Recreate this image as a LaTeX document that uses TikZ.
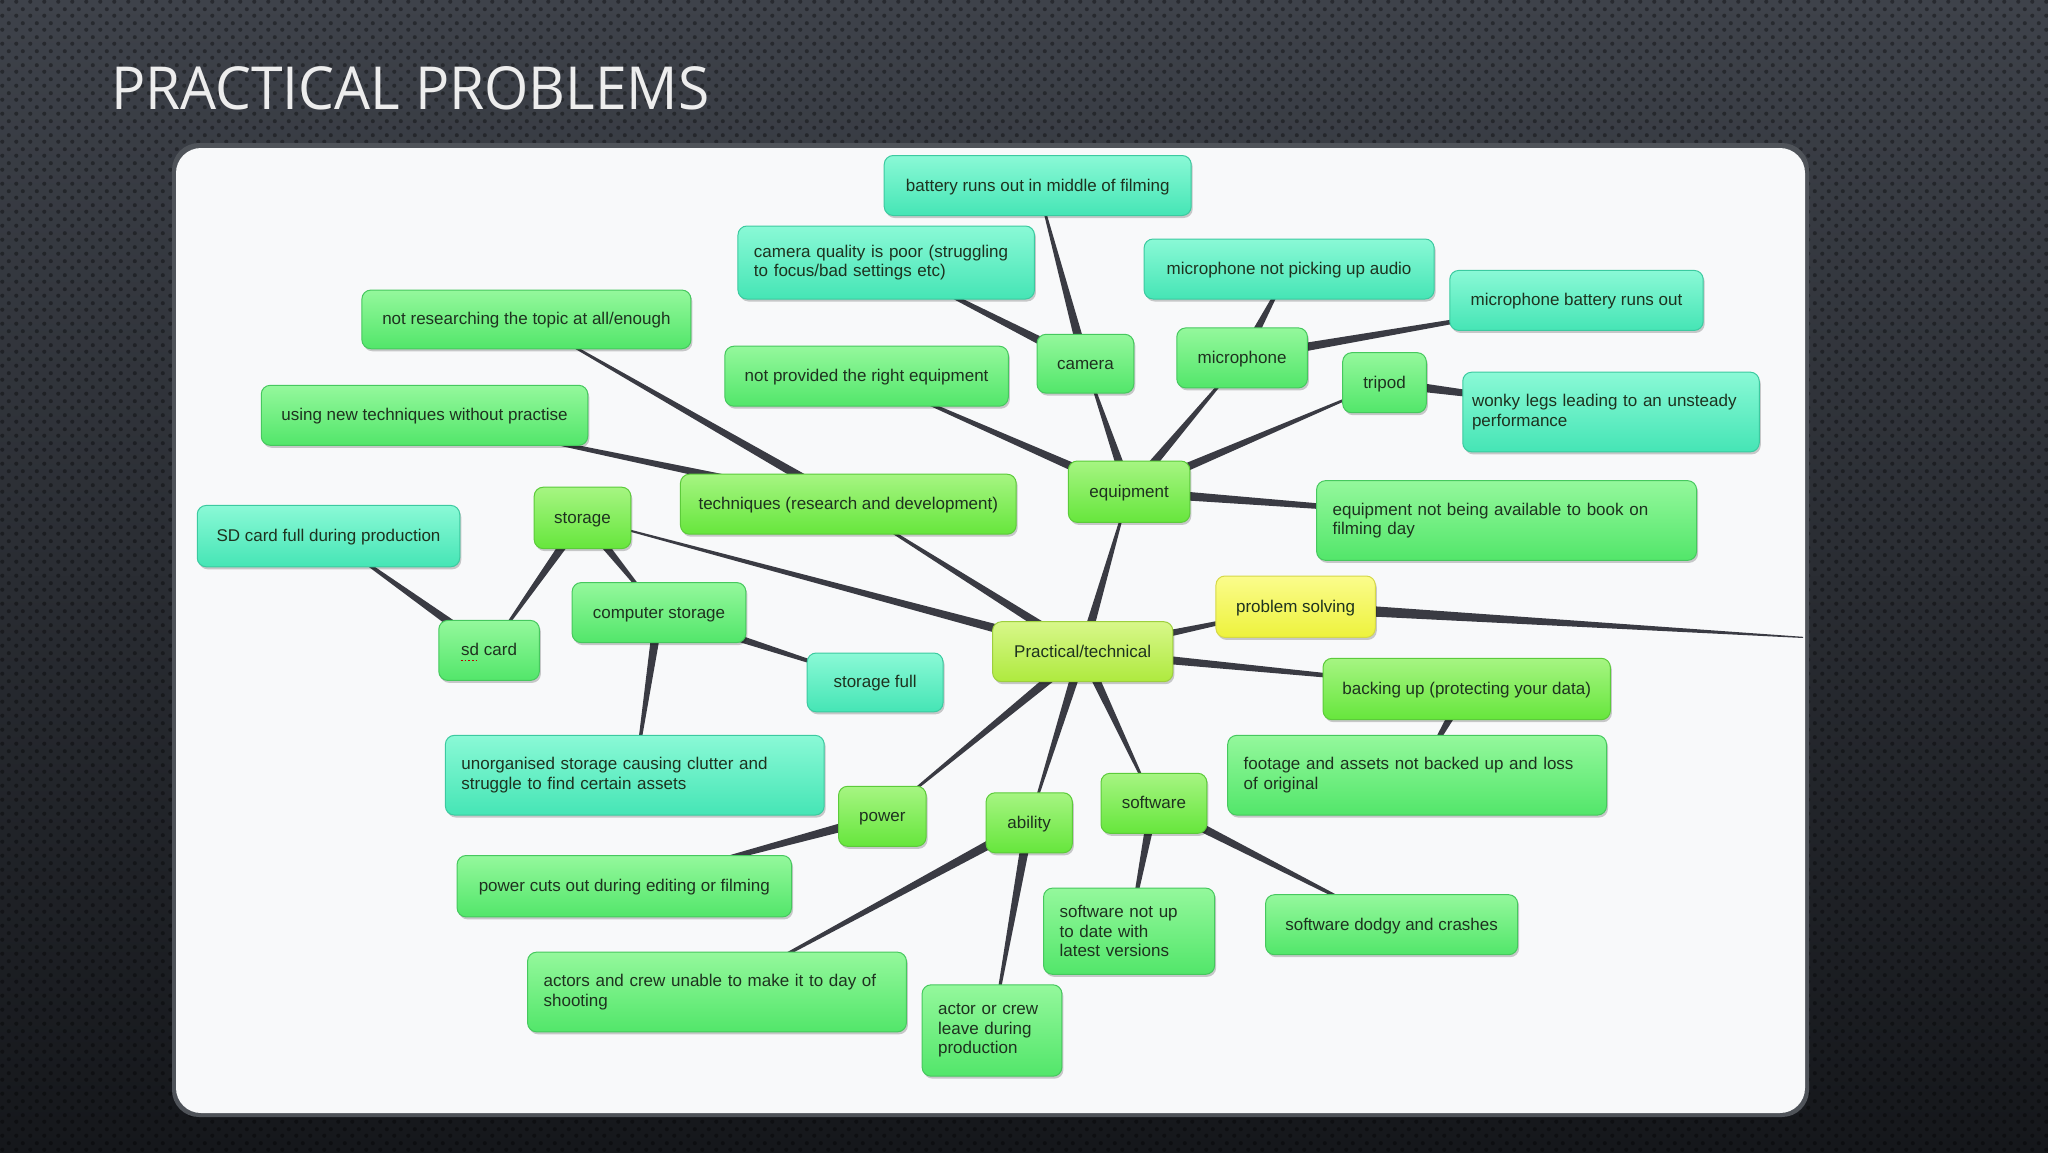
\documentclass[tikz,border=0pt]{standalone}
\usepackage{fontspec}
\usepackage{graphicx}
\setmainfont{Liberation Sans}
\newfontfamily\titlefont{Open Sans}
\usetikzlibrary{calc,shadows,patterns.meta}
\hyphenpenalty=10000
\exhyphenpenalty=10000
\definecolor{bgtop}{HTML}{3E424A}
\definecolor{bgbot}{HTML}{15171B}
\definecolor{panelrim}{HTML}{4F5359}
\definecolor{panelwhite}{HTML}{F8F9FA}
\definecolor{edgecol}{HTML}{3A3B43}
\definecolor{txtcol}{HTML}{1E321F}
\definecolor{limeT}{HTML}{A6F582}
\definecolor{limeB}{HTML}{66E63C}
\definecolor{limeD}{HTML}{5CCB3A}
\definecolor{grnT}{HTML}{94F89C}
\definecolor{grnB}{HTML}{52E66A}
\definecolor{grnD}{HTML}{46C85E}
\definecolor{cyaT}{HTML}{8AF9D6}
\definecolor{cyaB}{HTML}{45E5B5}
\definecolor{cyaD}{HTML}{3CCAA0}
\definecolor{yelT}{HTML}{FBFC8C}
\definecolor{yelB}{HTML}{EDF23C}
\definecolor{yelD}{HTML}{D5D848}
\definecolor{ctrT}{HTML}{D8F78A}
\definecolor{ctrB}{HTML}{AEEA3E}
\definecolor{ctrD}{HTML}{9DCF3E}
\pgfdeclarelayer{bg}
\pgfdeclarelayer{edges}
\pgfsetlayers{bg,edges,main}
\tikzdeclarepattern{
  name=perforated,
  type=uncolored,
  bounding box={(0pt,0pt) and (14pt,14pt)},
  tile size={(14pt,14pt)},
  code={
    \pgfpathcircle{\pgfpoint{3.5pt}{3.5pt}}{2.2pt}
    \pgfpathcircle{\pgfpoint{10.5pt}{10.5pt}}{2.2pt}
    \pgfusepath{fill}
  }
}
\newcommand\tapered[3][5pt]{\fill[edgecol] ($(#2)!#1!90:(#3)$) -- ($(#3)!0.6pt!-90:(#2)$) -- ($(#3)!0.6pt!90:(#2)$) -- ($(#2)!#1!-90:(#3)$) -- cycle;}
\begin{document}
\begin{tikzpicture}[x=1pt,y=-1pt,
  box/.style={rounded corners=9pt, inner xsep=12pt, inner ysep=3pt, align=center,
    font=\fontsize{17}{19.5}\selectfont, text=txtcol, line width=1pt,
    text height=14pt, text depth=3pt,
    drop shadow={shadow xshift=1.5pt, shadow yshift=-2.5pt, opacity=0.2, fill=black}},
  sz/.style 2 args={minimum width=#1pt, minimum height=#2pt},
  multi/.style={align=left, inner xsep=16pt, text width=#1pt, text height=, text depth=},
  lime/.style={box, top color=limeT, bottom color=limeB, draw=limeD},
  grn/.style={box, top color=grnT, bottom color=grnB, draw=grnD},
  cya/.style={box, top color=cyaT, bottom color=cyaB, draw=cyaD},
  yel/.style={box, top color=yelT, bottom color=yelB, draw=yelD},
  ctrc/.style={box, top color=ctrT, bottom color=ctrB, draw=ctrD}]
\useasboundingbox (0,0) rectangle (2048,1152);
\begin{pgfonlayer}{bg}
  \fill[top color=bgtop, bottom color=bgbot] (0,0) rectangle (2048,1152);
  \fill[pattern=perforated, pattern color=black, fill opacity=0.35] (0,0) rectangle (2048,1152);
  \fill[rounded corners=27pt, panelrim] (172,143) rectangle (1809,1117);
  \fill[rounded corners=25pt, panelwhite] (176,148) rectangle (1805,1113);
\end{pgfonlayer}
\node[anchor=south west, inner sep=0pt, text=white!93!black] (title) at (111,110)
  {\resizebox{598pt}{43pt}{\titlefont PRACTICAL PROBLEMS}};
% level 0 / 1
\node[ctrc, sz={180.2}{60}] (ctr) at (1082.7,651.7) {Practical/technical};
\node[lime, sz={335.7}{60}] (tech) at (848.3,504.2) {techniques (research and development)};
\node[lime, sz={96.6}{61.4}] (stor) at (582.5,517.9) {storage};
\node[lime, sz={121.5}{61.4}] (equip) at (1129.1,491.7) {equipment};
\node[yel, sz={159.3}{61.4}] (prob) at (1295.6,606.7) {problem solving};
\node[lime, sz={287.3}{61.4}] (backup) at (1466.7,689) {backing up (protecting your data)};
\node[lime, sz={87.5}{60}] (power) at (882.3,816.3) {power};
\node[lime, sz={86.2}{60}] (ability) at (1029.2,822.8) {ability};
\node[lime, sz={105.8}{60}] (soft) at (1153.9,803.3) {software};
% level 2
\node[grn, sz={329}{58.7}] (notres) at (526.4,319.4) {not researching the topic at all/enough};
\node[grn, sz={326.5}{60}] (usenew) at (424.5,415.3) {using new techniques without practise};
\node[grn, sz={283.4}{60}] (notprov) at (866.6,376.2) {not provided the right equipment};
\node[grn, sz={96.7}{58.8}] (camera) at (1085.4,363.7) {camera};
\node[grn, sz={130.6}{60}] (mic) at (1242.1,357.9) {microphone};
\node[grn, sz={83.6}{60}] (tripod) at (1384.5,382.7) {tripod};
\node[grn, multi=348, sz={380}{79.7}] (equipna) at (1506.6,520.5) {equipment not being available to book on\\filming day};
\node[grn, sz={100.6}{60}] (sdcard) at (489.1,650.4) {sd card};
\node[grn, sz={173.7}{60}] (compst) at (659,612.6) {computer storage};
\node[grn, multi=346.8, sz={378.8}{79.7}] (footage) at (1417.1,775.2) {footage and assets not backed up and loss\\of original};
\node[grn, sz={334.4}{61.4}] (pcuts) at (624.3,886.2) {power cuts out during editing or filming};
\node[grn, multi=346.8, sz={378.8}{79.7}] (actors) at (717,992) {actors and crew unable to make it to day of\\shooting};
\node[grn, multi=107.8, sz={139.8}{91.4}] (aleave) at (992,1030.5) {actor or crew\\leave during\\production};
\node[grn, multi=139.1, sz={171.1}{86.2}] (swold) at (1129.1,931.2) {software not up\\to date with\\latest versions};
\node[grn, sz={252.1}{60}] (swdodgy) at (1391.6,924.7) {software dodgy and crashes};
% cyan leaves
\node[cya, sz={307}{60}] (battery) at (1037.7,185.5) {battery runs out in middle of filming};
\node[cya, multi=264.5, sz={296.5}{73}] (camq) at (886.2,262.5) {camera quality is poor (struggling\\to focus/bad settings etc)};
\node[cya, sz={290}{60}] (micaud) at (1289.1,269) {microphone not picking up audio};
\node[cya, sz={253.4}{60}] (micbat) at (1576.5,300.4) {microphone battery runs out};
\node[cya, multi=278, inner xsep=9pt, sz={296.5}{79.7}] (wonky) at (1611,412) {wonky legs leading to an unsteady\\performance};
\node[cya, sz={262.5}{61.4}] (sdfull) at (328.5,536.1) {SD card full during production};
\node[cya, sz={135.8}{58.8}] (stfull) at (875.1,682.4) {storage full};
\node[cya, multi=346.8, sz={378.8}{79.7}] (unorg) at (634.8,775.2) {unorganised storage causing clutter and\\struggle to find certain assets};
\coordinate (offright) at (1803,637.4);
% spell-check mark
\draw[red!75!black, dotted, line width=1.6pt] ($(sdcard.center)+(-28,10)$) -- ++(17,0);
\begin{pgfonlayer}{edges}
  \tapered{ctr}{tech}
  \tapered{ctr}{stor}
  \tapered{ctr}{equip}
  \tapered{ctr}{prob}
  \tapered{ctr}{backup}
  \tapered{ctr}{power}
  \tapered{ctr}{ability}
  \tapered{ctr}{soft}
  \tapered[6pt]{prob}{offright}
  \tapered{tech}{notres}
  \tapered{tech}{usenew}
  \tapered{equip}{notprov}
  \tapered{equip}{camera}
  \tapered{equip}{mic}
  \tapered{equip}{tripod}
  \tapered{equip}{equipna}
  \tapered{camera}{battery}
  \tapered{camera}{camq}
  \tapered{mic}{micaud}
  \tapered{mic}{micbat}
  \tapered{tripod}{wonky}
  \tapered{stor}{sdcard}
  \tapered{stor}{compst}
  \tapered{sdcard}{sdfull}
  \tapered{compst}{stfull}
  \tapered{compst}{unorg}
  \tapered{backup}{footage}
  \tapered{power}{pcuts}
  \tapered{ability}{actors}
  \tapered{ability}{aleave}
  \tapered{soft}{swold}
  \tapered{soft}{swdodgy}
\end{pgfonlayer}
\end{tikzpicture}
\end{document}
